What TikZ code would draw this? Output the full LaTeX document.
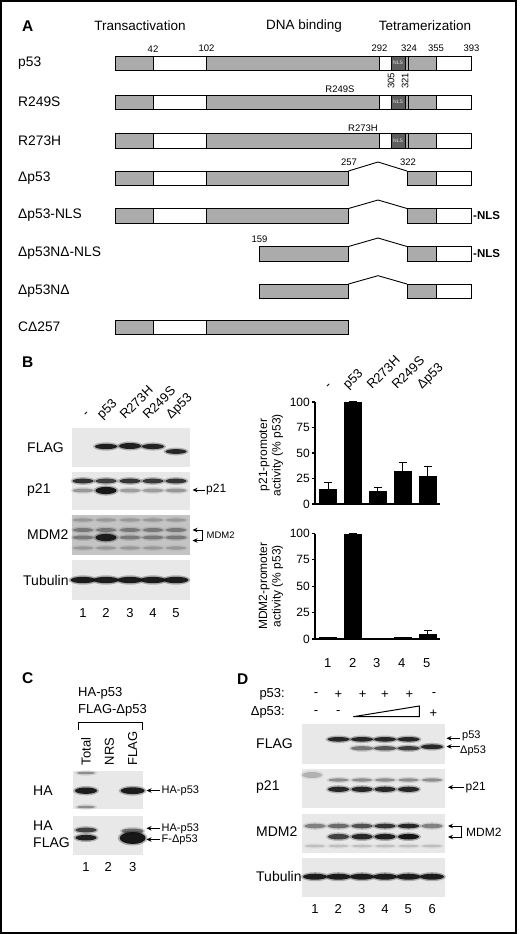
\documentclass[tikz,border=0pt]{standalone}
\usepackage{fontspec}
\setmainfont{Liberation Sans}
\usetikzlibrary{arrows.meta}
\definecolor{domgray}{HTML}{ABABAB}
\definecolor{nlsgray}{HTML}{5E5E5E}
\definecolor{blotbg}{HTML}{E8E8E8}
\definecolor{blotdk}{HTML}{C4C4C4}
\definecolor{bandc}{HTML}{101010}
\newcommand{\bnd}[5]{%
  \pgfmathsetmacro\bndh{#5*0.3}%
  \fill[bandc,opacity=\bndh] (#1,#2) ellipse ({#3pt+2pt} and {#4pt+1.5pt});%
  \fill[bandc,opacity=#5] (#1,#2) ellipse ({#3pt} and {#4pt});}
\newcommand{\fullbar}[2]{%
  \draw[gdom] (115,#1) rectangle (153,{#1+14.5});
  \draw[wdom] (153,#1) rectangle (206.5,{#1+14.5});
  \draw[gdom] (206.5,#1) rectangle (379,{#1+14.5});
  \draw[wdom] (379,#1) rectangle (391,{#1+14.5});
  \draw[ndom] (391,#1) rectangle (405,{#1+14.5});
  \draw[gdom] (405,#1) rectangle (436,{#1+14.5});
  \draw[line width=0.9pt] (408,#1) -- (408,{#1+14.5});
  \draw[wdom] (436,#1) rectangle (471.5,{#1+14.5});
  \node[font=\fontsize{5}{5}\selectfont, text=gray!20, inner sep=0pt] (#2) at (398,{#1+7.25}) {NLS};}
\newcommand{\leftfull}[1]{%
  \draw[gdom] (115,#1) rectangle (153,{#1+14.5});
  \draw[wdom] (153,#1) rectangle (206.5,{#1+14.5});
  \draw[gdom] (206.5,#1) rectangle (348.5,{#1+14.5});}
\newcommand{\rightpart}[2]{%
  \draw[gdom] (407,#1) rectangle (436,{#1+14.5});
  \draw[wdom] (436,#1) rectangle (471.5,{#1+14.5});
  \draw[link] (348.5,#1) -- (378,#2) -- (407,#1);}
\begin{document}
\begin{tikzpicture}[x=1pt,y=-1pt,
  lbl/.style={font=\fontsize{13}{15}\selectfont, inner sep=0pt},
  rlab/.style={font=\fontsize{13.8}{16}\selectfont, inner sep=0pt},
  blab/.style={font=\fontsize{14}{16}\selectfont, inner sep=0pt},
  hdr/.style={font=\fontsize{13.5}{16}\selectfont, inner sep=0pt},
  num/.style={font=\fontsize{9.5}{11}\selectfont, inner sep=0pt},
  sm/.style={font=\fontsize{11}{13}\selectfont, inner sep=1.5pt},
  smm/.style={font=\fontsize{9.5}{11}\selectfont, inner sep=1.5pt},
  tk/.style={font=\fontsize{12}{14}\selectfont, inner sep=0pt},
  nlsb/.style={font=\fontsize{11.5}{13}\selectfont\bfseries, inner sep=0pt},
  panel/.style={font=\fontsize{15.5}{18}\selectfont\bfseries, inner sep=0pt},
  gdom/.style={draw=black, line width=0.9pt, fill=domgray},
  wdom/.style={draw=black, line width=0.9pt, fill=white},
  ndom/.style={draw=black, line width=0.9pt, fill=nlsgray},
  link/.style={draw=black, line width=0.9pt},
  arr/.style={-{Stealth[length=5pt,width=4.5pt]}, line width=1pt},
  blot/.style={fill=blotbg},
  axis/.style={line width=1.1pt},
]
\useasboundingbox (0,0) rectangle (520,934);
\fill[white] (0,0) rectangle (520,934);
\draw[line width=2pt] (1,1) rectangle (516,932.5);

% ---------------- Panel A ----------------
\node[panel, anchor=west] (pA) at (22,26) {A};
\node[hdr] (hTA) at (140,26) {Transactivation};
\node[hdr] (hDNA) at (304,26) {DNA binding};
\node[hdr] (hTet) at (425,26) {Tetramerization};

\foreach \x/\t [count=\i] in {153/42,206.5/102,379.5/292,409/324,436/355,471.5/393}
  {\node[num] (aa\i) at (\x,48.7) {\t};}

\fullbar{56}{nlsA}
\fullbar{95}{nlsB}
\fullbar{133.5}{nlsC}
\node[num, rotate=90] (r305) at (391,81) {305};
\node[num, rotate=90] (r321) at (405,81) {321};
\node[num] (mR249S) at (340,89.5) {R249S};
\node[num] (mR273H) at (363,128) {R273H};

\leftfull{171}\rightpart{171}{162}
\node[num] (n257) at (349,162) {257};
\node[num] (n322) at (408,162) {322};

\leftfull{208.5}\rightpart{208.5}{200}
\node[nlsb, anchor=west] (nls1) at (473,215.75) {-NLS};

\draw[gdom] (259.5,246.5) rectangle (348.5,261);
\rightpart{246.5}{238}
\node[num] (n159) at (259.5,239.5) {159};
\node[nlsb, anchor=west] (nls2) at (473,253.75) {-NLS};

\draw[gdom] (259.5,284) rectangle (348.5,298.5);
\rightpart{284}{275.7}

\leftfull{320}

\node[rlab, anchor=west] (rp53) at (18,63.5) {p53};
\node[rlab, anchor=west] (rR249S) at (18,102) {R249S};
\node[rlab, anchor=west] (rR273H) at (18,140.5) {R273H};
\node[rlab, anchor=west] (rdp53) at (18,178) {Δp53};
\node[rlab, anchor=west] (rdp53nls) at (18,215.5) {Δp53-NLS};
\node[rlab, anchor=west] (rdnnls) at (18,253.5) {Δp53NΔ-NLS};
\node[rlab, anchor=west] (rdn) at (18,291) {Δp53NΔ};
\node[rlab, anchor=west] (rc257) at (18,327) {CΔ257};

% ---------------- Panel B ----------------
\node[panel, anchor=west] (pB) at (22,362) {B};
\node[lbl, rotate=45] (bc1) at (87,415) {-};
\foreach \x/\t [count=\i] in {102/p53,125/R273H,148/R249S,171/Δp53}
  {\node[lbl, rotate=45, anchor=base west] (bc\i x) at (\x,420) {\t};}

% FLAG
\fill[blot] (71.7,428) rectangle (190,467);
\bnd{106}{446.5}{11}{2.7}{0.9}
\bnd{130}{446}{11}{3}{0.9}
\bnd{153}{446.5}{11}{2.6}{0.88}
\bnd{176}{451.5}{10.5}{2.4}{0.85}
% p21
\fill[blot] (71.7,471.5) rectangle (190,510);
\foreach \x/\o in {83/0.8,106/0.72,130/0.78,153/0.75,176/0.78} {\bnd{\x}{481}{10.5}{2.4}{\o}}
\foreach \x/\o/\h in {83/0.3/2,106/0.95/3.6,130/0.28/2,153/0.28/2,176/0.3/2} {\bnd{\x}{490.5}{10.5}{\h}{\o}}
% MDM2
\fill[blotdk] (71.7,515) rectangle (190,555);
\foreach \x in {83,106,130,153,176} {\bnd{\x}{520}{10}{1.6}{0.2}\bnd{\x}{530}{10}{2}{0.35}\bnd{\x}{548}{10}{1.6}{0.2}}
\foreach \x/\o/\h in {83/0.35/2,106/0.9/3.6,130/0.35/2,153/0.35/2,176/0.35/2} {\bnd{\x}{537.5}{10.5}{\h}{\o}}
% Tubulin
\fill[blot] (71.7,560) rectangle (190,600);
\foreach \x in {83,106,130,153,176} {\bnd{\x}{580}{12.5}{3.2}{0.92}}

\node[blab, anchor=west] (bFLAG) at (27,448) {FLAG};
\node[blab, anchor=west] (bp21) at (27,490) {p21};
\node[blab, anchor=west] (bMDM2) at (27,535) {MDM2};
\node[blab, anchor=west] (bTub) at (23,580) {Tubulin};

\node[font=\fontsize{12}{14}\selectfont, inner sep=1.5pt, anchor=west] (ap21) at (204.5,490) {p21};
\coordinate (ap21t) at (192.5,490);
\draw[arr] (ap21.west) -- (ap21t);
\coordinate (am1) at (202,530); \coordinate (am2) at (202,540.5);
\coordinate (am1t) at (192.5,530); \coordinate (am2t) at (192.5,540.5);
\draw[arr] (am1) -- (am1t); \draw[arr] (am2) -- (am2t);
\draw[line width=1pt] (am1) -- (am2);
\node[smm, anchor=west] (aMDM2) at (205,535.5) {MDM2};

\foreach \x [count=\i] in {83,106,130,153,176} {\node[lbl] (bl\i) at (\x,613) {\i};}

% ---------------- Bar charts ----------------
\node[lbl, rotate=45] (gc1) at (329.3,386.7) {-};
\foreach \x/\t [count=\i] in {348/p53,372/R273H,397/R249S,422/Δp53}
  {\node[lbl, rotate=45, anchor=base west] (gc\i x) at (\x,390) {\t};}

% chart 1
\draw[axis] (315,402) -- (315,504) -- (440,504);
\foreach \v in {0,25,50,75,100} {
  \pgfmathsetmacro\yy{504-1.02*\v}
  \draw[axis] (311.5,\yy) -- (315,\yy);
  \node[tk, anchor=east] (ta\v) at (310,\yy) {\v};}
\foreach \c/\v/\e in {328.3/15/21.4,352.5/100/100,377.7/12.5/16,402.5/32/41,427.5/27/37} {
  \pgfmathsetmacro\yt{504-1.02*\v}
  \pgfmathsetmacro\ye{504-1.02*\e}
  \draw[line width=1.1pt] (\c,\yt) -- (\c,\ye) (\c-4,\ye) -- (\c+4,\ye);
  \fill (\c-9,\yt) rectangle (\c+9,504);}
\node[font=\fontsize{12}{13.5}\selectfont, inner sep=0pt, rotate=90, align=center] (ylab1) at (271,455) {p21-promoter\\activity (\% p53)};

% chart 2
\draw[axis] (315,533.5) -- (315,639) -- (440,639);
\foreach \v in {0,25,50,75,100} {
  \pgfmathsetmacro\yy{639-1.055*\v}
  \draw[axis] (311.5,\yy) -- (315,\yy);
  \node[tk, anchor=east] (tb\v) at (310,\yy) {\v};}
\foreach \c/\v/\e in {328.3/1.5/1.5,352.5/100/100,377.7/0.6/0.6,402.5/1.5/1.5,427.5/4.7/7.8} {
  \pgfmathsetmacro\yt{639-1.055*\v}
  \pgfmathsetmacro\ye{639-1.055*\e}
  \draw[line width=1.1pt] (\c,\yt) -- (\c,\ye) (\c-4,\ye) -- (\c+4,\ye);
  \fill (\c-9,\yt) rectangle (\c+9,639);}
\node[font=\fontsize{12}{13.5}\selectfont, inner sep=0pt, rotate=90, align=center] (ylab2) at (271,586) {MDM2-promoter\\activity (\% p53)};

\foreach \x [count=\i] in {327.7,352.7,376.7,401.7,426.7} {\node[lbl] (gl\i) at (\x,662.7) {\i};}

% ---------------- Panel C ----------------
\node[panel, anchor=west] (pC) at (22,678.5) {C};
\node[lbl, anchor=west] (cHA) at (78,693.5) {HA-p53};
\node[lbl, anchor=west] (cFL) at (78,710.5) {FLAG-Δp53};
\draw[line width=1pt] (78,730) -- (78,722) -- (142,722) -- (142,730);
\foreach \x/\t [count=\i] in {86/Total,109.3/NRS,132.7/FLAG}
  {\node[lbl, rotate=90, anchor=west] (cc\i) at (\x,765.5) {\t};}

\fill[blot] (72.7,770.7) rectangle (143.3,809.3);
\bnd{86}{773}{9}{1.2}{0.35}
\bnd{86}{807}{9}{1.2}{0.35}
\bnd{86}{790.7}{11}{3.2}{0.92}
\bnd{132.7}{790.7}{12}{3.4}{0.92}
\fill[blot] (72.7,816) rectangle (143.3,855);
\bnd{86}{830}{10.5}{2.4}{0.7}
\bnd{86}{837.7}{10.5}{2.8}{0.9}
\bnd{132.7}{831}{11}{2.5}{0.5}
\bnd{132.7}{838}{13}{6}{0.95}

\node[blab, anchor=west] (cbHA) at (33,790.5) {HA};
\node[blab, anchor=west] (cbHA2) at (33,826) {HA};
\node[blab, anchor=west] (cbFL) at (33,843) {FLAG};

\node[sm, anchor=west] (caHA) at (160,790.5) {HA-p53};
\coordinate (caHAt) at (146.5,790.5); \draw[arr] (caHA.west) -- (caHAt);
\node[sm, anchor=west] (caHA2) at (160,828.3) {HA-p53};
\coordinate (caHA2t) at (146.5,828.3); \draw[arr] (caHA2.west) -- (caHA2t);
\node[sm, anchor=west] (caF) at (160,839.5) {F-Δp53};
\coordinate (caFt) at (146.5,839.5); \draw[arr] (caF.west) -- (caFt);

\foreach \x [count=\i] in {86,108.3,132.7} {\node[lbl] (cl\i) at (\x,866.7) {\i};}

% ---------------- Panel D ----------------
\node[panel, anchor=west] (pD) at (237,679.5) {D};
\node[lbl, anchor=east] (dp53) at (285,694) {p53:};
\node[lbl, anchor=east] (ddp53) at (285,712.7) {Δp53:};
\foreach \x/\s [count=\i] in {316/-,338.3/+,362.7/+,385/+,409.3/+,434/-}
  {\node[lbl] (ds\i) at (\x,694.5) {\s};}
\node[lbl] (dt1) at (316,713) {-};
\node[lbl] (dt2) at (338.3,713) {-};
\node[lbl] (dt6) at (433.3,714) {+};
\draw[line width=1pt] (353.3,716.7) -- (419.3,716.7) -- (419.3,706) -- cycle;

% FLAG D
\fill[blot] (302,724.3) rectangle (444.5,764);
\foreach \x in {338.5,362,385,408.5} {\bnd{\x}{739.3}{11}{2.3}{0.85}}
\foreach \x/\o in {362/0.45,385/0.6,408.5/0.72} {\bnd{\x}{748.3}{11}{2.2}{\o}}
\bnd{432}{746.8}{11}{2.4}{0.85}
% p21 D
\fill[blot] (302,769.3) rectangle (444.5,808.3);
\bnd{312}{775}{10}{3}{0.2}
\foreach \x in {338.5,362,385,408.5,432} {\bnd{\x}{780}{10}{1.6}{0.35}}
\foreach \x in {338.5,362,385,408.5} {\bnd{\x}{789.3}{10.5}{2.6}{0.85}}
% MDM2 D
\fill[blot] (302,814) rectangle (444.5,852.7);
\foreach \x/\o in {315/0.4,338.5/0.5,362/0.62,385/0.78,408.5/0.85,432/0.4} {\bnd{\x}{826}{10.5}{2.3}{\o}}
\foreach \x/\o in {338.5/0.7,362/0.85,385/0.9,408.5/0.95} {\bnd{\x}{836.7}{10.5}{2.8}{\o}}
\foreach \x in {315,338.5,362,385,408.5,432} {\bnd{\x}{846}{10}{1.3}{0.15}}
% Tubulin D
\fill[blot] (302,858.3) rectangle (444.5,896.7);
\foreach \x in {315,338.5,362,385,408.5,432} {\bnd{\x}{876.7}{12}{3}{0.92}}

\node[blab, anchor=west] (dFLAG) at (256,744) {FLAG};
\node[blab, anchor=west] (dp21) at (256,786.7) {p21};
\node[blab, anchor=west] (dMDM2) at (256,831.7) {MDM2};
\node[blab, anchor=west] (dTub) at (256,876.7) {Tubulin};

\node[sm, anchor=west] (dap53) at (460.5,736.2) {p53};
\coordinate (dap53s) at (460,738.3); \coordinate (dap53t) at (446.5,738.3);
\draw[arr] (dap53s) -- (dap53t);
\node[sm, anchor=west] (dadp53) at (458.5,750.3) {Δp53};
\coordinate (dadp53s) at (460,746.5); \coordinate (dadp53t) at (446.5,746.5);
\draw[arr] (dadp53s) -- (dadp53t);
\node[font=\fontsize{12}{14}\selectfont, inner sep=1.5pt, anchor=west] (dap21) at (464,787.3) {p21};
\coordinate (dap21t) at (448,787.3); \draw[arr] (dap21.west) -- (dap21t);
\coordinate (dm1) at (461.5,826); \coordinate (dm2) at (461.5,837);
\coordinate (dm1t) at (448,826); \coordinate (dm2t) at (448,837);
\draw[arr] (dm1) -- (dm1t); \draw[arr] (dm2) -- (dm2t);
\draw[line width=1pt] (dm1) -- (dm2);
\node[font=\fontsize{12}{14}\selectfont, inner sep=0pt, anchor=west] (daMDM2) at (466,832) {MDM2};

\foreach \x [count=\i] in {315,338.3,361.7,385,408.3,432.3} {\node[lbl] (dl\i) at (\x,909.3) {\i};}
\end{tikzpicture}
\end{document}
